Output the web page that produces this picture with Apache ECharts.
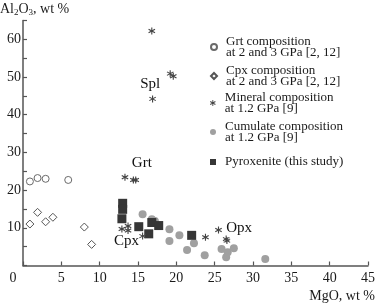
<!DOCTYPE html>
<html>
<head>
<meta charset="utf-8">
<script src="https://cdn.jsdelivr.net/npm/echarts@6/dist/echarts.min.js"></script>
<style>
  html, body { margin: 0; padding: 0; background: #fff; }
  #chart { width: 378px; height: 307px; }
</style>
</head>
<body>
<div id="chart"></div>
<script>
// [MgO, Al2O3] wt %
var grtComp = [[0.9, 22.3], [1.9, 23.2], [2.95, 23.0], [5.9, 22.7]];
var cpxComp = [[0.9, 11.0], [1.9, 14.1], [2.95, 11.6], [3.9, 12.8], [8.0, 10.2], [8.95, 5.6]];
var mineral = [
    [16.8, 62.2], [19.2, 50.9], [19.6, 50.2], [16.9, 44.2],
    [13.3, 23.4], [14.4, 22.7], [14.7, 22.7],
    [12.9, 9.7], [13.7, 10.5], [13.7, 9.3], [15.6, 7.8],
    [23.8, 7.5], [25.5, 9.4], [26.5, 7.0], [26.6, 6.6]
];
var cumulate = [
    [15.6, 13.6], [16.8, 12.3], [17.2, 11.8], [19.1, 9.6], [19.1, 6.5], [20.4, 8.0],
    [21.4, 4.1], [22.3, 5.9], [23.7, 2.7], [25.9, 4.4], [26.7, 3.5], [27.5, 4.6],
    [26.5, 2.2], [31.6, 1.7]
];
var pyroxenite = [
    [13.0, 16.5], [13.0, 14.9], [12.9, 12.4], [15.1, 10.3], [16.8, 11.4],
    [17.7, 10.6], [16.4, 8.4], [22.0, 8.0]
];
var phaseLabels = [
    {name: 'Spl', value: [16.6, 48.1]},
    {name: 'Grt', value: [15.5, 27.2]},
    {name: 'Cpx', value: [13.5, 6.5]},
    {name: 'Opx', value: [28.2, 9.9]}
];
var seriesNames = [
    'Grt composition\nat 2 and 3 GPa [2, 12]',
    'Cpx composition\nat 2 and 3 GPa [2, 12]',
    'Mineral composition\nat 1.2 GPa [9]',
    'Cumulate composition\nat 1.2 GPa [9]',
    'Pyroxenite (this study)'
];

var serif = 'Liberation Serif';
var txt = '#1a1a1a';
var asterisk = 'path://M-0.15,-1L0.15,-1L0.15,1L-0.15,1Z' +
    'M0.79,0.63L-0.94,-0.37L-0.79,-0.63L0.94,0.37Z' +
    'M0.94,-0.37L-0.79,0.63L-0.94,0.37L0.79,-0.63Z';

function legendAt(name, top) {
    var two = name.indexOf('\n') >= 0;
    return {
        orient: 'vertical',
        left: 210,
        top: top,
        padding: 0,
        itemWidth: 6,
        itemHeight: 6,
        selectedMode: false,
        data: [{
            name: name,
            textStyle: {
                fontFamily: serif, fontSize: 13, color: txt, lineHeight: 11,
                padding: two ? [11, 0, 0, 4] : [0, 0, 0, 4]
            }
        }]
    };
}

var chart = echarts.init(document.getElementById('chart'));
chart.setOption({
    backgroundColor: '#fff',
    animation: false,
    title: {
        left: 0, top: 1, padding: 0,
        text: '{a|Al}{s|2}{a|O}{s|3}{a|, wt %}',
        textStyle: {
            fontWeight: 'normal',
            rich: {
                a: {fontFamily: serif, fontSize: 14, fontWeight: 'normal', color: txt, lineHeight: 16, verticalAlign: 'middle'},
                s: {fontFamily: serif, fontSize: 9, fontWeight: 'normal', color: txt, lineHeight: 16, verticalAlign: 'bottom'}
            }
        }
    },
    legend: [
        legendAt(seriesNames[0], 30.5),
        legendAt(seriesNames[1], 59.5),
        legendAt(seriesNames[2], 86.5),
        legendAt(seriesNames[3], 115.5),
        legendAt(seriesNames[4], 155.5)
    ],
    grid: {left: 23, right: 9, top: 20.5, bottom: 41.5},
    xAxis: {
        type: 'value', min: 0, max: 45, interval: 5,
        name: 'MgO, wt %', nameLocation: 'end', nameGap: 7,
        nameTextStyle: {
            fontFamily: serif, fontSize: 14, color: txt,
            align: 'right', verticalAlign: 'top', padding: [24, 0, 0, 0]
        },
        axisLine: {lineStyle: {color: '#555', width: 1.5}},
        axisTick: {inside: true, length: 4, lineStyle: {color: '#555', width: 1.2}},
        axisLabel: {
            fontFamily: serif, fontSize: 14, color: txt, margin: 6,
            formatter: function (v) { return v === 0 ? '{z|0}' : String(v); },
            rich: {z: {fontFamily: serif, fontSize: 14, color: txt, padding: [0, 20, 0, 0]}}
        },
        splitLine: {show: false}
    },
    yAxis: {
        type: 'value', min: 0, max: 65, interval: 5,
        axisLine: {lineStyle: {color: '#555', width: 1.5}},
        axisTick: {inside: true, length: 4, lineStyle: {color: '#555', width: 1.2}},
        axisLabel: {
            fontFamily: serif, fontSize: 14, color: txt, margin: 2,
            formatter: function (v) { return (v > 0 && v % 10 === 0) ? String(v) : ''; }
        },
        splitLine: {show: false}
    },
    series: [
        {
            name: seriesNames[0], type: 'scatter', data: grtComp,
            symbol: 'circle', symbolSize: 7,
            itemStyle: {color: '#fff', borderColor: '#6a6a6a', borderWidth: 1, opacity: 1}
        },
        {
            name: seriesNames[1], type: 'scatter', data: cpxComp,
            symbol: 'diamond', symbolSize: 8,
            itemStyle: {color: '#fff', borderColor: '#555', borderWidth: 1, opacity: 1}
        },
        {
            name: seriesNames[3], type: 'scatter', data: cumulate,
            symbol: 'circle', symbolSize: 8,
            itemStyle: {color: '#a0a0a0', opacity: 1}
        },
        {
            name: seriesNames[4], type: 'scatter', data: pyroxenite,
            symbol: 'rect', symbolSize: 9,
            itemStyle: {color: '#363636', opacity: 1}
        },
        {
            name: seriesNames[2], type: 'scatter', data: mineral,
            symbol: asterisk, symbolSize: 7,
            itemStyle: {color: '#444', opacity: 1}
        },
        {
            name: 'labels', type: 'scatter', data: phaseLabels,
            symbolSize: 0, silent: true,
            itemStyle: {opacity: 1},
            label: {
                show: true, position: 'inside', formatter: '{b}',
                fontFamily: serif, fontSize: 15, color: '#111',
                textBorderWidth: 0, textShadowBlur: 0, opacity: 1
            }
        }
    ]
});
</script>
</body>
</html>
